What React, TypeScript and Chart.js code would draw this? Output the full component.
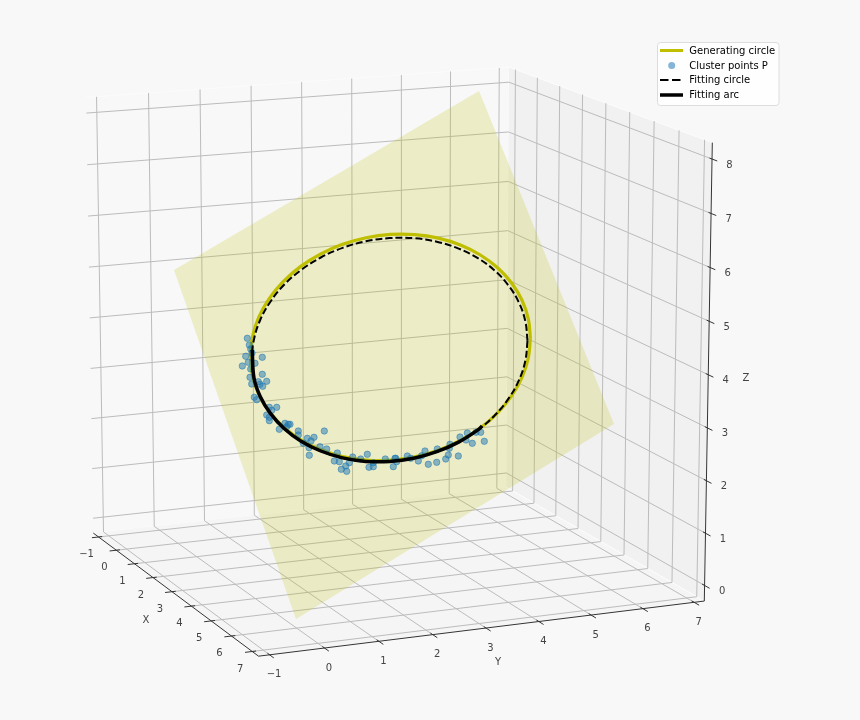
import React, { useEffect, useRef } from "react";
import { Chart, registerables } from "chart.js";

Chart.register(...registerables);

const xTicks = [-1, 0, 1, 2, 3, 4, 5, 6, 7];
const yTicks = [-1, 0, 1, 2, 3, 4, 5, 6, 7];
const zTicks = [0, 1, 2, 3, 4, 5, 6, 7, 8];

const planeX = [479, 614, 296, 174];
const planeY = [91, 424, 619, 270];

const genX = [530.4, 528.3, 522.0, 511.6, 497.6, 480.4, 460.4, 438.3, 414.7, 390.4, 366.1, 342.5, 320.4, 300.4, 283.2, 269.2, 258.8, 252.5, 250.4, 252.5, 258.8, 269.2, 283.2, 300.4, 320.4, 342.5, 366.1, 390.4, 414.7, 438.3, 460.4, 480.4, 497.6, 511.6, 522.0, 528.3, 530.4];
const genY = [338.2, 358.0, 377.4, 395.9, 412.9, 428.0, 440.5, 450.3, 456.9, 460.2, 460.0, 456.5, 449.6, 439.6, 426.8, 411.6, 394.4, 375.8, 356.4, 336.6, 317.2, 298.7, 281.7, 266.6, 254.1, 244.3, 237.7, 234.4, 234.6, 238.1, 245.0, 255.0, 267.8, 283.0, 300.2, 318.8, 338.2];

const fitX = [527.5, 525.4, 519.2, 509.0, 495.3, 478.3, 458.6, 436.8, 413.6, 389.7, 365.8, 342.6, 320.8, 301.1, 284.1, 270.4, 260.2, 254.0, 251.9, 254.0, 260.2, 270.4, 284.1, 301.1, 320.8, 342.6, 365.8, 389.7, 413.6, 436.8, 458.6, 478.3, 495.3, 509.0, 519.2, 525.4, 527.5];
const fitY = [340.8, 360.4, 379.6, 397.9, 414.8, 429.6, 442.1, 451.7, 458.3, 461.5, 461.4, 457.9, 451.0, 441.2, 428.5, 413.4, 396.4, 378.0, 358.8, 339.2, 320.0, 301.7, 284.8, 270.0, 257.5, 247.9, 241.3, 238.1, 238.2, 241.7, 248.6, 258.4, 271.1, 286.2, 303.2, 321.6, 340.8];

const arcX = [482, 478.3, 458.6, 436.8, 413.6, 389.7, 365.8, 342.6, 320.8, 301.1, 284.1, 270.4, 260.2, 254.0, 252.2];
const arcY = [426, 429.6, 442.1, 451.7, 458.3, 461.5, 461.4, 457.9, 451.0, 441.2, 428.5, 413.4, 396.4, 378.0, 350];

const clusterX = [247.3, 249.3, 250.7, 252, 245.7, 262.3, 248.3, 255, 242.3, 250.7, 262.3, 250, 266.7, 258.3, 251.7, 260, 262.7, 254.3, 256.7, 276.7, 269.3, 271.7, 266.7, 269.3, 269.3, 285, 288.3, 286.7, 279.3, 290, 298.3, 324.3, 298.3, 307.3, 314, 311, 303.3, 309, 309.3, 320, 326.7, 337.3, 334.3, 339.3, 349.3, 345.7, 341.3, 346.7, 352.7, 360.7, 367.3, 369, 373.3, 373.3, 385.3, 393.3, 395.7, 396.7, 395, 407.3, 410.7, 418.3, 421.7, 425, 428.3, 436.7, 437.3, 445.7, 448.3, 458.3, 450, 449.3, 460, 467.3, 466, 472.3, 476, 480.7, 484.3];
const clusterY = [338.3, 345, 349, 353, 356.3, 357.3, 362.3, 363.3, 366, 369, 374.3, 377.3, 381.3, 381.7, 384, 384.3, 386.3, 397.3, 399.7, 407.3, 407.3, 410.3, 415, 417.3, 420.7, 423.3, 424.3, 426.7, 429.3, 424.3, 431, 431, 435, 438.3, 437.3, 441, 443.3, 447.7, 455.3, 446.7, 449, 453, 461, 461.7, 462.7, 466, 469.3, 471.3, 457, 459, 454.3, 467.3, 466.7, 462.7, 459, 466.7, 458.3, 461.7, 458.3, 456, 458.3, 461, 455.7, 451, 464.3, 462.3, 449, 459, 455, 456, 444.3, 448.3, 437, 433, 440, 443.3, 432.3, 432.3, 441.3];

const seriesNames = ["Generating circle", "Cluster points P", "Fitting circle", "Fitting arc"];
const axisNames = ["X", "Y", "Z"];

type P = { x: number; y: number };
type V3 = [number, number, number];

// camera of the 3D box, fitted to the picture
const AZ = -23, EL = 13.5, DIST = 9.5;
const FX = { a: 4477.9, b: 390.62 };
const FY = { a: -4363.4, b: 345.55 };
const XL = -1.3, XH = 7.3, YL = -1.2, YH = 7.2, ZL = -0.3, ZH = 8.3;

const aRad = (AZ * Math.PI) / 180, eRad = (EL * Math.PI) / 180;
const nV: V3 = [Math.cos(aRad) * Math.cos(eRad), Math.sin(aRad) * Math.cos(eRad), Math.sin(eRad)];
const uV: V3 = [-Math.sin(aRad), Math.cos(aRad), 0];
const vV: V3 = [-nV[2] * uV[1], nV[2] * uV[0], nV[0] * uV[1] - nV[1] * uV[0]];

function proj(x: number, y: number, z: number): P {
  const c: V3 = [(x - XL) / (XH - XL) - 0.5, (y - YL) / (YH - YL) - 0.5, (z - ZL) / (ZH - ZL) - 0.5];
  const w = DIST - (nV[0] * c[0] + nV[1] * c[1] + nV[2] * c[2]);
  const px = (uV[0] * c[0] + uV[1] * c[1]) / w;
  const py = (vV[0] * c[0] + vV[1] * c[1] + vV[2] * c[2]) / w;
  return { x: FX.a * px + FX.b, y: FY.a * py + FY.b };
}

const poly = (pts: V3[]) => pts.map((p) => proj(p[0], p[1], p[2]));
const BREAK: P = { x: NaN, y: NaN };
const segs = (lines: V3[][]) => {
  const out: P[] = [];
  lines.forEach((l) => { out.push(...poly(l), BREAK); });
  return out;
};

const gridLines: V3[][] = [
  ...xTicks.map((t): V3[] => [[t, YL, ZL], [t, YH, ZL], [t, YH, ZH]]),
  ...yTicks.map((t): V3[] => [[XH, t, ZL], [XL, t, ZL], [XL, t, ZH]]),
  ...zTicks.map((t): V3[] => [[XL, YL, t], [XL, YH, t], [XH, YH, t]]),
];
const tickLines: V3[][] = [
  ...xTicks.map((t): V3[] => [[t, YL - 0.13, ZL], [t, YL + 0.07, ZL]]),
  ...yTicks.map((t): V3[] => [[XH + 0.2, t, ZL], [XH - 0.1, t, ZL]]),
  ...zTicks.map((t): V3[] => [[XH + 0.2, YH, t], [XH - 0.1, YH, t]]),
];
const axisLines: V3[][] = [
  [[XL, YL, ZL], [XH, YL, ZL], [XH, YH, ZL], [XH, YH, ZH]],
];

const zip = (xs: number[], ys: number[]): P[] => xs.map((x, i) => ({ x, y: ys[i] }));
const fmt = (t: number) => (t < 0 ? "\u2212" + Math.abs(t) : String(t));

const overlayPlugin = {
  id: "overlay",
  afterDatasetsDraw(chart: any) {
    const { ctx, scales } = chart;
    const sx = (v: number) => scales.x.getPixelForValue(v);
    const sy = (v: number) => scales.y.getPixelForValue(v);
    ctx.save();
    ctx.font = '10px "DejaVu Sans"';
    ctx.fillStyle = "#444444";
    ctx.textAlign = "center";
    ctx.textBaseline = "middle";
    const label = (s: string, p: P, dx: number, dy: number) => ctx.fillText(s, sx(p.x) + dx, sy(p.y) + dy);
    xTicks.forEach((t) => label(fmt(t), proj(t, YL, ZL), -12, 17.5));
    yTicks.forEach((t) => label(fmt(t), proj(XH, t, ZL), 4.5, 20));
    zTicks.forEach((t) => label(fmt(t), proj(XH, YH, t), 17.5, 6));
    ctx.fillText(axisNames[0], 146, 620);
    ctx.fillText(axisNames[1], 498, 662);
    ctx.fillText(axisNames[2], 746, 378);

    ctx.beginPath();
    ctx.roundRect(657.5, 42.5, 121.5, 63, 3);
    ctx.fillStyle = "rgba(255,255,255,0.9)";
    ctx.fill();
    ctx.strokeStyle = "#dcdcdc";
    ctx.lineWidth = 1;
    ctx.stroke();
    const rows = [50.5, 65.5, 80, 95];
    ctx.textAlign = "left";
    seriesNames.forEach((name, i) => {
      const y = rows[i];
      ctx.setLineDash([]);
      if (i === 1) {
        ctx.beginPath();
        ctx.arc(671.7, y, 3.5, 0, Math.PI * 2);
        ctx.fillStyle = "rgba(31,119,180,0.55)";
        ctx.fill();
      } else {
        ctx.beginPath();
        ctx.moveTo(660, y);
        ctx.lineTo(683, y);
        ctx.strokeStyle = i === 0 ? "#bfbf00" : "#000000";
        ctx.lineWidth = i === 0 ? 3 : i === 2 ? 2 : 3.5;
        if (i === 2) ctx.setLineDash([8.5, 3.5]);
        ctx.stroke();
      }
      ctx.setLineDash([]);
      ctx.fillStyle = "#000000";
      ctx.fillText(name, 689.3, y + 0.5);
    });
    ctx.restore();
  },
};

export default function App() {
  const ref = useRef<HTMLCanvasElement>(null);
  useEffect(() => {
    document.body.style.margin = "0";
    document.body.style.background = "#f8f8f8";
    const pane = (pts: V3[], color: string, order: number) => ({
      label: "Pane",
      data: poly(pts),
      showLine: true,
      fill: "shape",
      backgroundColor: color,
      borderColor: "#fbfbfb",
      borderWidth: 1,
      pointRadius: 0,
      tension: 0,
      order,
    });
    const chart = new Chart(ref.current as HTMLCanvasElement, {
      type: "scatter",
      data: {
        datasets: [
          pane([[XL, YL, ZL], [XL, YH, ZL], [XL, YH, ZH], [XL, YL, ZH]], "#f8f8f8", 100),
          pane([[XL, YH, ZL], [XH, YH, ZL], [XH, YH, ZH], [XL, YH, ZH]], "#f1f1f1", 99),
          pane([[XL, YL, ZL], [XH, YL, ZL], [XH, YH, ZL], [XL, YH, ZL]], "#f5f5f5", 98),
          { label: "Grid", data: segs(gridLines), showLine: true, borderColor: "#bcbcbc", borderWidth: 1, pointRadius: 0, order: 90 },
          { label: "Axes", data: segs(axisLines), showLine: true, borderColor: "#333333", borderWidth: 1, pointRadius: 0, order: 89 },
          { label: "Ticks", data: segs(tickLines), showLine: true, borderColor: "#333333", borderWidth: 1, pointRadius: 0, order: 88 },
          { label: "Plane", data: zip(planeX, planeY), showLine: true, fill: "shape", backgroundColor: "rgba(191,191,0,0.2)", borderWidth: 0, borderColor: "transparent", pointRadius: 0, order: 50 },
          { label: seriesNames[0], data: zip(genX, genY), showLine: true, borderColor: "#bfbf00", borderWidth: 3.2, pointRadius: 0, tension: 0.4, order: 4 },
          { label: seriesNames[1], data: zip(clusterX, clusterY), showLine: false, pointRadius: 3.2, pointBorderWidth: 1, pointBackgroundColor: "rgba(31,119,180,0.5)", pointBorderColor: "rgba(31,119,180,0.5)", order: 3 },
          { label: seriesNames[2], data: zip(fitX, fitY), showLine: true, borderColor: "#000000", borderWidth: 2, borderDash: [7, 3], pointRadius: 0, tension: 0.4, order: 2 },
          { label: seriesNames[3], data: zip(arcX, arcY), showLine: true, borderColor: "#000000", borderWidth: 3.5, pointRadius: 0, tension: 0.4, order: 1 },
        ] as any,
      },
      options: {
        animation: false,
        responsive: false,
        layout: { padding: 0, autoPadding: false },
        plugins: { legend: { display: false }, tooltip: { enabled: false } },
        scales: {
          x: { type: "linear", display: false, min: 0, max: 860 },
          y: { type: "linear", display: false, min: 0, max: 720, reverse: true },
        },
      },
      plugins: [overlayPlugin],
    });
    return () => chart.destroy();
  }, []);
  return <canvas ref={ref} width={860} height={720} style={{ display: "block", background: "#f8f8f8" }} />;
}
